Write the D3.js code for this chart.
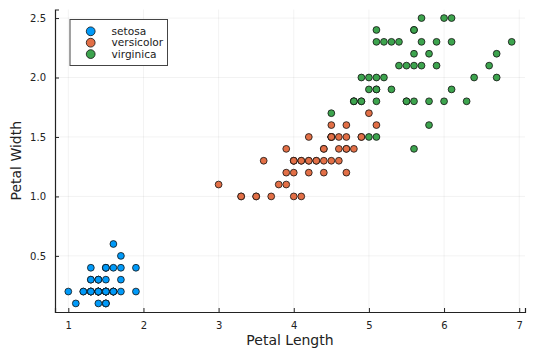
<!DOCTYPE html>
<html>
<head>
<meta charset="utf-8">
<script src="https://cdn.jsdelivr.net/npm/d3@7"></script>
<style>
  body { margin: 0; background: #fff; }
  svg { display: block; font-family: "DejaVu Sans", sans-serif; }
</style>
</head>
<body>
<div id="chart"></div>
<script>
const W = 542, H = 352;

// --- Daten (Iris: Petal Length / Petal Width) ---
const species = ["setosa", "versicolor", "virginica"];
const colors = ["#009af9", "#e26f46", "#3da44e"];

const setosaLength = [1.4,1.4,1.3,1.5,1.4,1.7,1.4,1.5,1.4,1.5,1.5,1.6,1.4,1.1,1.2,1.5,1.3,1.4,1.7,1.5,1.7,1.5,1.0,1.7,1.9,1.6,1.6,1.5,1.4,1.6,1.6,1.5,1.5,1.4,1.5,1.2,1.3,1.5,1.3,1.5,1.3,1.3,1.3,1.6,1.9,1.4,1.6,1.4,1.5,1.4];
const setosaWidth  = [0.2,0.2,0.2,0.2,0.2,0.4,0.3,0.2,0.2,0.1,0.2,0.2,0.1,0.1,0.2,0.4,0.4,0.3,0.3,0.3,0.2,0.4,0.2,0.5,0.2,0.2,0.4,0.2,0.2,0.2,0.2,0.4,0.1,0.2,0.2,0.2,0.2,0.1,0.2,0.2,0.3,0.3,0.2,0.6,0.4,0.3,0.2,0.2,0.2,0.2];

const versicolorLength = [4.7,4.5,4.9,4.0,4.6,4.5,4.7,3.3,4.6,3.9,3.5,4.2,4.0,4.7,3.6,4.4,4.5,4.1,4.5,3.9,4.8,4.0,4.9,4.7,4.3,4.4,4.8,5.0,4.5,3.5,3.8,3.7,3.9,5.1,4.5,4.5,4.7,4.4,4.1,4.0,4.4,4.6,4.0,3.3,4.2,4.2,4.2,4.3,3.0,4.1];
const versicolorWidth  = [1.4,1.5,1.5,1.3,1.5,1.3,1.6,1.0,1.3,1.4,1.0,1.5,1.0,1.4,1.3,1.4,1.5,1.0,1.5,1.1,1.8,1.3,1.5,1.2,1.3,1.4,1.4,1.7,1.5,1.0,1.1,1.0,1.2,1.6,1.5,1.6,1.5,1.3,1.3,1.3,1.2,1.4,1.2,1.0,1.3,1.2,1.3,1.3,1.1,1.3];

const virginicaLength = [6.0,5.1,5.9,5.6,5.8,6.6,4.5,6.3,5.8,6.1,5.1,5.3,5.5,5.0,5.1,5.3,5.5,6.7,6.9,5.0,5.7,4.9,6.7,4.9,5.7,6.0,4.8,4.9,5.6,5.8,6.1,6.4,5.6,5.1,5.6,6.1,5.6,5.5,4.8,5.4,5.6,5.1,5.1,5.9,5.7,5.2,5.0,5.2,5.4,5.1];
const virginicaWidth  = [2.5,1.9,2.1,1.8,2.2,2.1,1.7,1.8,1.8,2.5,2.0,1.9,2.1,2.0,2.4,2.3,1.8,2.2,2.3,1.5,2.3,2.0,2.0,1.8,2.1,1.8,1.8,1.8,2.1,1.6,1.9,2.0,2.2,1.5,1.4,2.3,2.4,1.8,1.8,2.1,2.4,2.3,1.9,2.3,2.5,2.3,1.9,2.0,2.3,1.8];

const xTicks = [1, 2, 3, 4, 5, 6, 7];
const yTicks = [0.5, 1.0, 1.5, 2.0, 2.5];

const series = [
  { name: species[0], color: colors[0], xs: setosaLength, ys: setosaWidth },
  { name: species[1], color: colors[1], xs: versicolorLength, ys: versicolorWidth },
  { name: species[2], color: colors[2], xs: virginicaLength, ys: virginicaWidth }
];

// --- Layout ---
const margin = { top: 9.5, right: 17, bottom: 40, left: 55 };
const width = W - margin.left - margin.right;
const height = H - margin.top - margin.bottom;

// Achsengrenzen wie Plots.jl: Datenbereich +/- 3 %
const allX = series.flatMap(s => s.xs);
const allY = series.flatMap(s => s.ys);
const [xMin, xMax] = d3.extent(allX);
const [yMin, yMax] = d3.extent(allY);
const padX = (xMax - xMin) * 0.03;
const padY = (yMax - yMin) * 0.03;

const x = d3.scaleLinear().domain([xMin - padX, xMax + padX]).range([0, width]);
const y = d3.scaleLinear().domain([yMin - padY, yMax + padY]).range([height, 0]);

const svg = d3.select("#chart").append("svg")
  .attr("width", W)
  .attr("height", H);

const g = svg.append("g")
  .attr("transform", `translate(${margin.left},${margin.top})`);

// Grid
g.append("g")
  .selectAll("line")
  .data(xTicks)
  .join("line")
  .attr("x1", d => x(d)).attr("x2", d => x(d))
  .attr("y1", 0).attr("y2", height)
  .attr("stroke", "#000").attr("stroke-opacity", 0.1).attr("stroke-width", 0.5);

g.append("g")
  .selectAll("line")
  .data(yTicks)
  .join("line")
  .attr("y1", d => y(d)).attr("y2", d => y(d))
  .attr("x1", 0).attr("x2", width)
  .attr("stroke", "#000").attr("stroke-opacity", 0.1).attr("stroke-width", 0.5);

// Achsen (Ticks nach innen)
const xAxis = g.append("g")
  .attr("transform", `translate(0,${height})`)
  .call(d3.axisBottom(x).tickValues(xTicks).tickFormat(d3.format("d")).tickSize(-4).tickPadding(10));

const yAxis = g.append("g")
  .call(d3.axisLeft(y).tickValues(yTicks).tickFormat(d3.format(".1f")).tickSize(-4).tickPadding(9));

[xAxis, yAxis].forEach(a => {
  a.select(".domain").attr("stroke", "#222").attr("stroke-width", 1.2);
  a.selectAll(".tick line").attr("stroke", "#222").attr("stroke-width", 1);
  a.selectAll(".tick text").attr("fill", "#222").attr("font-size", "10px")
    .attr("font-family", "DejaVu Sans, sans-serif");
});

// Punkte
series.forEach(s => {
  g.append("g")
    .selectAll("circle")
    .data(s.xs.map((v, i) => [v, s.ys[i]]))
    .join("circle")
    .attr("cx", d => x(d[0]))
    .attr("cy", d => y(d[1]))
    .attr("r", 3.4)
    .attr("fill", s.color)
    .attr("stroke", "#111")
    .attr("stroke-width", 0.8);
});

// Achsentitel
svg.append("text")
  .attr("x", margin.left + width / 2)
  .attr("y", 345)
  .attr("text-anchor", "middle")
  .attr("font-size", "14px")
  .attr("fill", "#222")
  .text("Petal Length");

svg.append("text")
  .attr("transform", `translate(21,${margin.top + height / 2}) rotate(-90)`)
  .attr("text-anchor", "middle")
  .attr("font-size", "14px")
  .attr("fill", "#222")
  .text("Petal Width");

// Legende
const legend = svg.append("g").attr("transform", "translate(70,19.5)");
legend.append("rect")
  .attr("width", 97.5).attr("height", 46)
  .attr("fill", "#fff").attr("stroke", "#444").attr("stroke-width", 1);

series.forEach((s, i) => {
  const row = legend.append("g").attr("transform", `translate(0,${11.8 + i * 11.4})`);
  row.append("circle")
    .attr("cx", 20.7).attr("cy", 0).attr("r", 4.4)
    .attr("fill", s.color).attr("stroke", "#111").attr("stroke-width", 0.8);
  row.append("text")
    .attr("x", 41.5).attr("y", 0).attr("dy", "0.35em")
    .attr("font-size", "10.6px").attr("fill", "#222")
    .text(s.name);
});
</script>
</body>
</html>
